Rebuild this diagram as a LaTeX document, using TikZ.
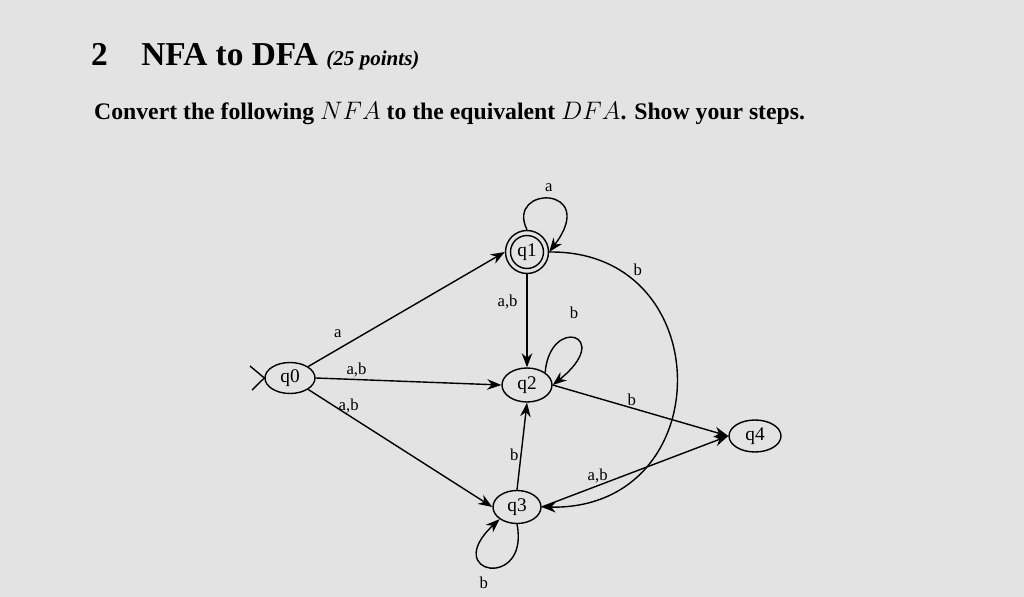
\documentclass[tikz,border=0pt]{standalone}
\usepackage{fontspec}
\setmainfont{Liberation Serif}
\usetikzlibrary{arrows.meta,shapes.geometric}
\begin{document}
\begin{tikzpicture}[x=0.02cm,y=-0.02cm,
  st/.style={draw,ellipse,line width=0.8pt,inner sep=0pt,font=\fontsize{11}{11}\selectfont},
  lab/.style={font=\fontsize{9.5}{9.5}\selectfont,inner sep=1pt},
  tr/.style={draw,line width=0.8pt,-{Stealth[length=8pt,width=6pt]}}]
\fill[gray!22] (0,0) rectangle (1024,597);
\useasboundingbox (0,0) rectangle (1024,597);
\node[anchor=base west,font=\fontsize{19}{19}\selectfont\bfseries] (t) at (85,66) {2\quad NFA to DFA \fontsize{12}{12}\selectfont\itshape (25 points)};
\node[anchor=base west,font=\fontsize{13.5}{14}\selectfont\bfseries] (p) at (88,120) {Convert the following $NFA$ to the equivalent $DFA$. Show your steps.};
\node[st,minimum width=1.0cm,minimum height=0.62cm] (q0) at (290,378) {q0};
\node[draw,circle,line width=0.8pt,minimum size=0.86cm] (q1o) at (527,252) {};
\node[draw,circle,line width=0.8pt,inner sep=0pt,minimum size=0.66cm,font=\fontsize{11}{11}\selectfont] (q1) at (527,252) {q1};
\node[st,minimum width=1.0cm,minimum height=0.68cm] (q2) at (527,385) {q2};
\node[st,minimum width=0.96cm,minimum height=0.66cm] (q3) at (517,507) {q3};
\node[st,minimum width=1.04cm,minimum height=0.64cm] (q4) at (755,436) {q4};
\coordinate (s) at (250,366);
\coordinate (s2) at (252,390);
\draw[line width=0.8pt] (s) -- (q0.west) -- (s2);
\draw[tr] (q0.north east) -- node[lab,above left=2pt,pos=0.2] {a} (q1o.west);
\draw[tr] (q0.east) -- node[lab,above,pos=0.22] {a,b} (q2.west);
\draw[tr] (q0.south east) -- node[lab,above,pos=0.22] {a,b} (q3.west);
\draw[tr] (q1o.south) -- node[lab,left=4pt,pos=0.3] {a,b} (q2.north);
\draw[tr] (q1o.north) .. controls (505,185) and (600,185) .. node[lab,above=3pt,pos=0.5] {a} (q1o.east);
\draw[tr] (q2.north east) .. controls (550,315) and (615,335) .. node[lab,above=10pt,pos=0.5] {b} (q2.east);
\draw[tr] (q1o.east) .. controls (720,250) and (720,510) .. node[lab,above right,pos=0.2] {b} (q3.east);
\draw[tr] (q2.east) -- node[lab,above,pos=0.45] {b} (q4.west);
\draw[tr] (q3.north) -- node[lab,left,pos=0.4] {b} (q2.south);
\draw[tr] (q3.east) -- node[lab,above,pos=0.3] {a,b} (q4.west);
\draw[tr] (q3.south) .. controls (530,590) and (440,575) .. node[lab,below=6pt,pos=0.6] {b} (q3.south west);
\end{tikzpicture}
\end{document}
